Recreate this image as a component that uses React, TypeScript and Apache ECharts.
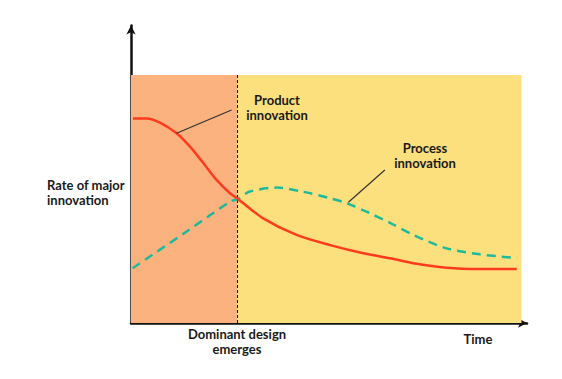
import React, { useEffect, useRef } from "react";
import * as echarts from "echarts";

// Curve data: [time, rate]
const productInnovation: [number, number][] = [
  [0.5, 82.5], [4.0, 82.5], [7.3, 80.8], [11.5, 76.5], [14.9, 71.1], [18.3, 64.4],
  [21.6, 57.7], [25.0, 52.3], [27.1, 49.9], [33.4, 42.2], [41.8, 35.5], [50.3, 31.4],
  [58.7, 28.1], [65.4, 26.1], [71.3, 24.1], [79.7, 22.3], [88.1, 21.8], [97.4, 21.8],
];
const processInnovation: [number, number][] = [
  [0.4, 22.1], [13.6, 36.4], [25.0, 48.9], [27.1, 50.1], [30.0, 53.0], [36.8, 54.6],
  [43.5, 52.9], [50.3, 50.3], [54.5, 48.3], [60.4, 44.2], [65.4, 40.4], [71.3, 35.5],
  [79.7, 30.1], [88.1, 27.7], [97.5, 26.2],
];
const dominantDesignX = 26.9;
const plotEndX = 98.6;
const plotTopY = 100;
const productLeader: [number, number][] = [[11.5, 76.5], [25.4, 85.9]];
const processLeader: [number, number][] = [[54.9, 48.7], [64.1, 61.7]];

const fontFamily = "Lato, 'Open Sans', sans-serif";

export default function App() {
  const ref = useRef<HTMLDivElement>(null);
  useEffect(() => {
    const chart = echarts.init(ref.current!, null, { renderer: "svg" });
    const txt = (x: number, y: number, text: string, align: string) => ({
      type: "text",
      x,
      y,
      z: 100,
      style: {
        text,
        fill: "#1a1a1a",
        font: `bold 13px ${fontFamily}`,
        textAlign: align,
        textVerticalAlign: "middle",
        lineHeight: 15,
      },
    });
    chart.setOption({
      animation: false,
      grid: { left: 131, top: 25.4, width: 396, height: 297.6 },
      xAxis: {
        type: "value",
        min: 0,
        max: 100,
        axisLine: { show: true, symbol: ["none", "arrow"], symbolSize: [7, 9], lineStyle: { color: "#111", width: 2.5 } },
        axisTick: { show: false },
        axisLabel: { show: false },
        splitLine: { show: false },
      },
      yAxis: {
        type: "value",
        min: 0,
        max: 120,
        axisLine: { show: true, symbol: ["none", "arrow"], symbolSize: [7, 9], lineStyle: { color: "#111", width: 2.5 } },
        axisTick: { show: false },
        axisLabel: { show: false },
        splitLine: { show: false },
      },
      series: [
        {
          type: "line",
          data: [],
          markArea: {
            silent: true,
            data: [
              [{ coord: [0, 0], itemStyle: { color: "#fcb27e" } }, { coord: [dominantDesignX, plotTopY] }],
              [{ coord: [dominantDesignX, 0], itemStyle: { color: "#fde07e" } }, { coord: [plotEndX, plotTopY] }],
            ],
          },
        },
        {
          type: "line",
          data: [[dominantDesignX, 0], [dominantDesignX, plotTopY]],
          symbol: "none",
          lineStyle: { color: "#111", width: 1, type: [3, 2] },
          z: 3,
        },
        {
          type: "line",
          data: processInnovation,
          smooth: 0.3,
          symbol: "none",
          lineStyle: { color: "#1dbb9b", width: 2.5, type: [9, 6] },
          z: 4,
        },
        {
          type: "line",
          data: productInnovation,
          smooth: 0.3,
          symbol: "none",
          lineStyle: { color: "#ff3b1e", width: 2.5 },
          z: 5,
        },
        {
          type: "line",
          data: productLeader,
          symbol: "none",
          lineStyle: { color: "#333", width: 1.2 },
          z: 6,
        },
        {
          type: "line",
          data: processLeader,
          symbol: "none",
          lineStyle: { color: "#333", width: 1.2 },
          z: 6,
        },
      ],
      graphic: [
        txt(277, 107.5, "Product\ninnovation", "center"),
        txt(425, 155.5, "Process\ninnovation", "center"),
        txt(47, 192, "Rate of major\ninnovation", "left"),
        txt(237, 341, "Dominant design\nemerges", "center"),
        txt(478, 339, "Time", "center"),
      ],
    });
    return () => chart.dispose();
  }, []);
  return <div ref={ref} style={{ position: "fixed", left: 0, top: 0, width: 562, height: 379, background: "#fff" }} />;
}
